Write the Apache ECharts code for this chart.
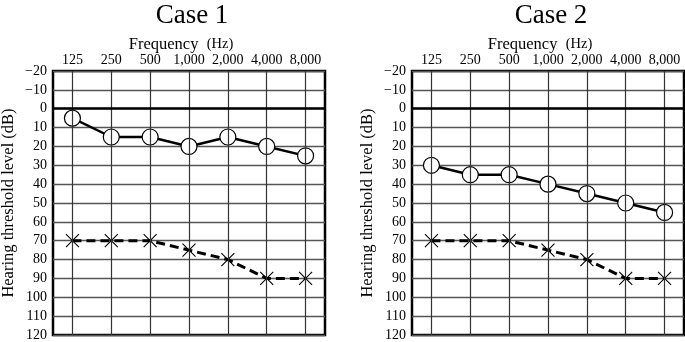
<!DOCTYPE html>
<html>
<head>
<meta charset="utf-8">
<script src="https://cdn.jsdelivr.net/npm/echarts@6/dist/echarts.min.js"></script>
<style>
  html, body { margin: 0; padding: 0; background: #fff; }
  #chart { width: 685px; height: 342px; }
</style>
</head>
<body>
<div id="chart"></div>
<script>
    // audiogram data (dB HL)
    let freqLabels = ['125', '250', '500', '1,000', '2,000', '4,000', '8,000'];
    let case1Air = [5, 15, 15, 20, 15, 20, 25];
    let case1Bone = [70, 70, 70, 75, 80, 90, 90];
    let case2Air = [30, 35, 35, 40, 45, 50, 55];
    let case2Bone = [70, 70, 70, 75, 80, 90, 90];
    let caseTitles = ['Case 1', 'Case 2'];

    let font = 'Liberation Serif';
    let chart = echarts.init(document.getElementById('chart'));

    let grids = [
        { left: 53, top: 71, width: 272, height: 264 },
        { left: 412, top: 71, width: 272, height: 264 }
    ];

    function xAxisFor(i) {
        return {
            type: 'category',
            gridIndex: i,
            position: 'top',
            data: freqLabels,
            boundaryGap: true,
            axisLine: { show: false },
            axisTick: { show: false },
            splitLine: { show: false },
            axisLabel: { color: '#000', fontFamily: font, fontSize: 14, margin: 4, interval: 0 }
        };
    }

    function yAxisFor(i) {
        return {
            type: 'value',
            gridIndex: i,
            inverse: true,
            min: -20,
            max: 120,
            interval: 10,
            name: 'Hearing threshold level (dB)',
            nameLocation: 'middle',
            nameRotate: 90,
            nameGap: 36,
            nameMoveOverlap: false,
            nameTextStyle: { color: '#000', fontFamily: font, fontSize: 16.5 },
            axisLine: { show: false },
            axisTick: { show: false },
            splitLine: { show: true, lineStyle: { color: '#555', width: 1.3 } },
            axisLabel: {
                color: '#000', fontFamily: font, fontSize: 14, margin: 6,
                formatter: function (v) { return String(v).replace('-', '\u2212'); }
            }
        };
    }

    // vertical grid lines at each frequency + the heavy 0 dB line
    function gridLinesFor(i) {
        let lines = freqLabels.map(function (f) { return { xAxis: f }; });
        lines.push({ yAxis: 0, lineStyle: { width: 2.5, color: '#000', type: 'solid' } });
        return {
            type: 'line',
            xAxisIndex: i,
            yAxisIndex: i,
            data: [],
            z: 1,
            silent: true,
            markLine: {
                silent: true,
                symbol: ['none', 'none'],
                label: { show: false },
                animation: false,
                lineStyle: { color: '#333', width: 1.2, type: 'solid' },
                data: lines
            }
        };
    }

    function airSeries(i, vals) {
        return {
            type: 'line',
            xAxisIndex: i,
            yAxisIndex: i,
            data: vals,
            z: 4,
            symbol: 'circle',
            symbolSize: 16,
            showAllSymbol: true,
            lineStyle: { color: '#000', width: 2.5 },
            itemStyle: { color: '#fff', borderColor: '#000', borderWidth: 1.2 }
        };
    }

    function boneSeries(i, vals) {
        return {
            type: 'line',
            xAxisIndex: i,
            yAxisIndex: i,
            data: vals,
            z: 3,
            symbol: 'path://M0,0L10,10M10,0L0,10',
            symbolSize: 13,
            showAllSymbol: true,
            lineStyle: { color: '#000', width: 3, type: [9, 5] },
            itemStyle: { color: 'none', borderColor: '#000', borderWidth: 1.1 }
        };
    }

    let titles = [];
    grids.forEach(function (g, i) {
        let cx = g.left + g.width / 2;
        titles.push({
            text: caseTitles[i],
            left: cx - 2,
            top: -3,
            textAlign: 'center',
            textStyle: { fontFamily: font, fontSize: 27, fontWeight: 'normal', color: '#000' }
        });
        titles.push({
            text: 'Frequency  {s|(Hz)}',
            left: cx - 13,
            top: 31,
            textAlign: 'center',
            textStyle: {
                fontFamily: font, fontSize: 16.5, fontWeight: 'normal', color: '#000',
                rich: { s: { fontFamily: font, fontSize: 14.5, color: '#000' } }
            }
        });
    });

    let option = {
        animation: false,
        backgroundColor: '#fff',
        title: titles,
        grid: grids.map(function (g) {
            return Object.assign({
                show: true, borderColor: '#000', borderWidth: 2.5, backgroundColor: '#fff',
                outerBoundsMode: 'none', containLabel: false
            }, g);
        }),
        xAxis: [xAxisFor(0), xAxisFor(1)],
        yAxis: [yAxisFor(0), yAxisFor(1)],
        series: [
            gridLinesFor(0),
            gridLinesFor(1),
            boneSeries(0, case1Bone),
            airSeries(0, case1Air),
            boneSeries(1, case2Bone),
            airSeries(1, case2Air)
        ]
    };
    chart.setOption(option);
    window.addEventListener('resize', function () {
        chart.resize();
    });
</script>
</body>
</html>
